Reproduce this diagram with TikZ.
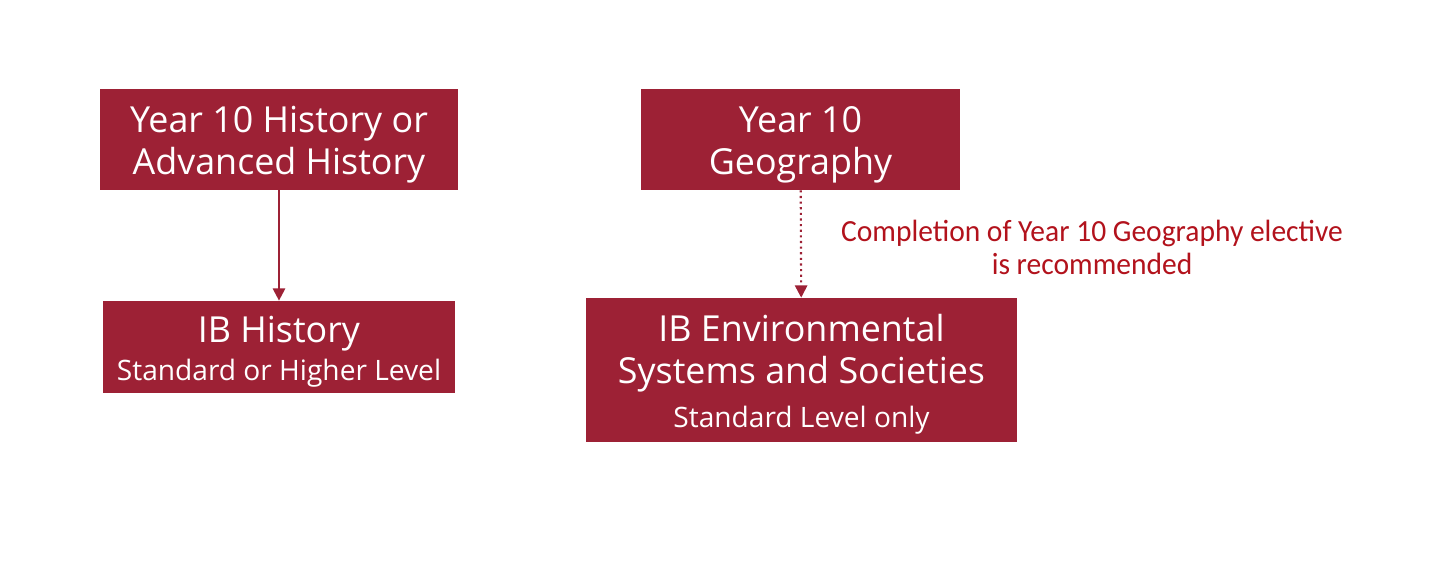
\documentclass[tikz,border=0pt]{standalone}
\usepackage{fontspec}
\setmainfont{Open Sans}
\newfontfamily\notefont[FakeStretch=0.96]{Carlito}
\usepackage{tikz}
\usetikzlibrary{arrows.meta}
\definecolor{ibred}{RGB}{157,33,53}
\definecolor{notered}{RGB}{178,18,28}
\newcommand{\levelsize}{\fontsize{16}{19}\selectfont}
\newcommand{\boxlift}{\rule{0pt}{1em}}
\tikzset{
  subject/.style={fill=ibred,text=white,align=center,inner sep=0pt,
    font=\fontsize{20.4}{24}\selectfont},
  path/.style={draw=ibred,line width=1.2pt,-{Triangle[length=7pt,width=7pt]}},
}

\begin{document}
\begin{tikzpicture}
\useasboundingbox (0,0) rectangle (28.8,-11.58);
\node[subject,minimum width=7.16cm,minimum height=2.02cm] (y10hist) at (5.58,-2.79)
  {\boxlift Year 10 History or\\Advanced History};
\node[subject,minimum width=7.04cm,minimum height=1.84cm] (ibhist) at (5.58,-6.94)
  {\boxlift IB History\\[-2pt]{\levelsize Standard or Higher Level}};
\node[subject,minimum width=6.38cm,minimum height=2.02cm] (y10geo) at (16.01,-2.79)
  {\boxlift Year 10\\Geography};
\node[subject,minimum width=8.62cm,minimum height=2.88cm] (ibess) at (16.03,-7.40)
  {\boxlift IB Environmental\\Systems and Societies\\[1pt]{\levelsize Standard Level only}};
\node[text=notered,align=center,font=\notefont\fontsize{17.5}{19}\selectfont] (note) at (21.84,-4.95)
  {Completion of Year 10 Geography elective\\is recommended};
\draw[path] (y10hist) -- (ibhist);
\draw[path,dotted] (y10geo) -- (ibess);
\end{tikzpicture}
\end{document}
